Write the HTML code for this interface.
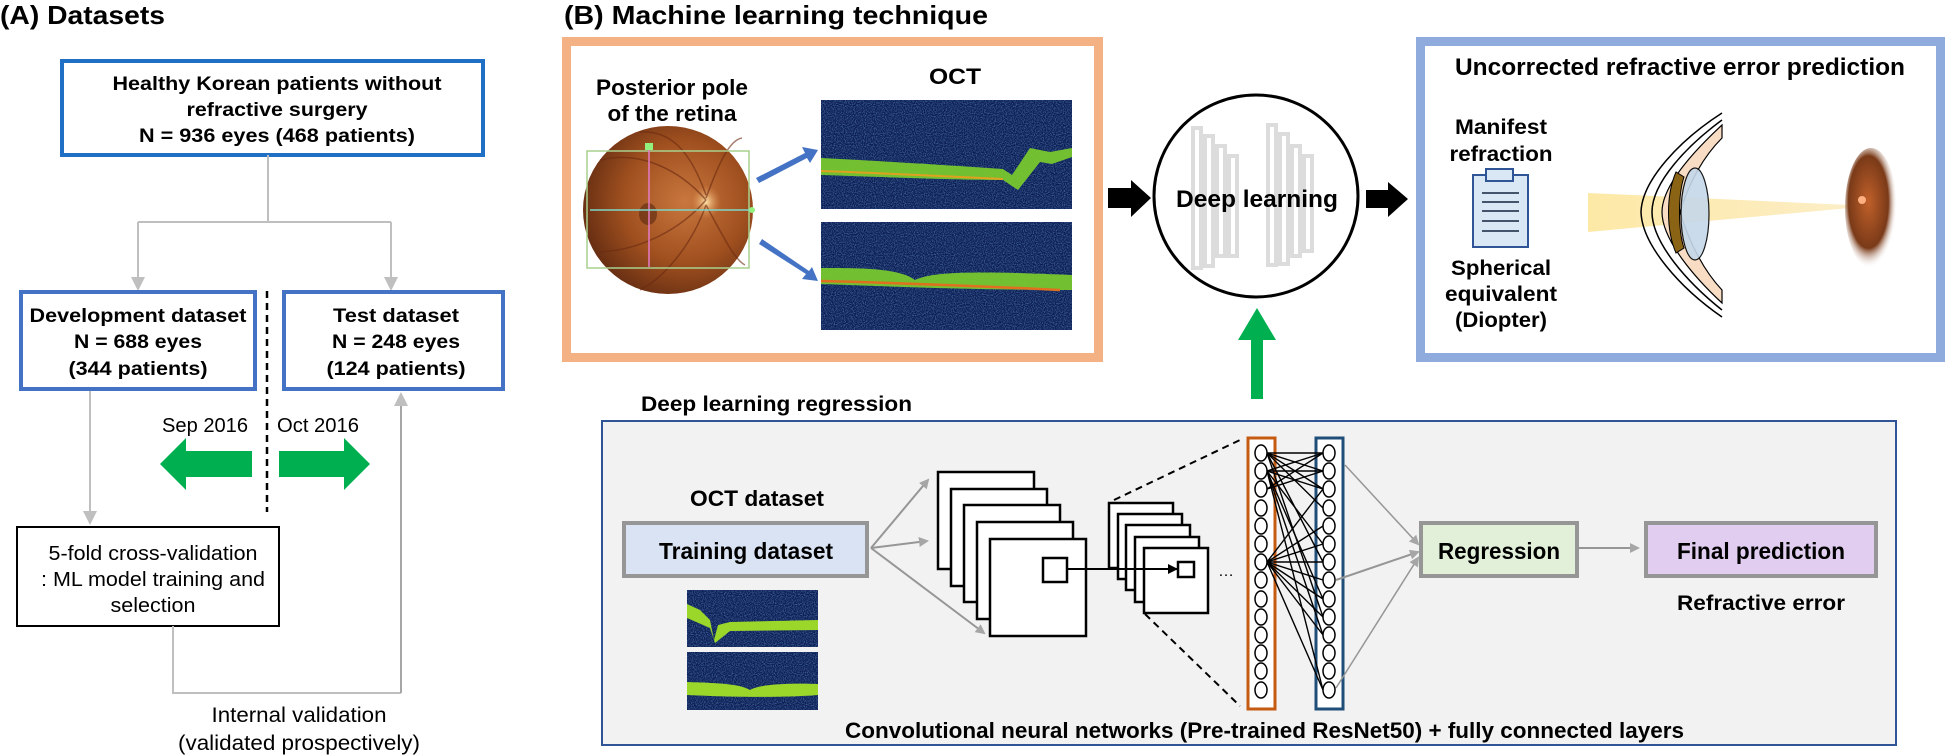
<!DOCTYPE html>
<html><head><meta charset="utf-8">
<style>
html,body{margin:0;padding:0;background:#fff;}
svg{display:block;}
.b{font-family:"Liberation Sans",sans-serif;font-weight:bold;fill:#000;}
.r{font-family:"Liberation Sans",sans-serif;fill:#000;}
.n{font-family:"Liberation Sans Narrow","Liberation Sans",sans-serif;font-weight:bold;fill:#000;}
</style></head>
<body>
<svg width="1946" height="755" viewBox="0 0 1946 755" xmlns="http://www.w3.org/2000/svg">
<defs>
<marker id="ga" markerWidth="10" markerHeight="10" refX="8" refY="5" orient="auto" markerUnits="userSpaceOnUse"><path d="M0,0 L10,5 L0,10 z" fill="#a6a6a6"/></marker>
<marker id="gl" markerWidth="14" markerHeight="14" refX="12" refY="7" orient="auto" markerUnits="userSpaceOnUse"><path d="M0,0 L14,7 L0,14 z" fill="#bfbfbf"/></marker>
<marker id="ka" markerWidth="10" markerHeight="10" refX="9" refY="5" orient="auto" markerUnits="userSpaceOnUse"><path d="M0,0 L10,5 L0,10 z" fill="#000"/></marker>
<radialGradient id="fund" cx="0.6" cy="0.45" r="0.6">
<stop offset="0" stop-color="#c9773e"/><stop offset="0.6" stop-color="#a0501f"/><stop offset="1" stop-color="#6a3013"/></radialGradient>
<radialGradient id="disc" cx="0.5" cy="0.5" r="0.5"><stop offset="0" stop-color="#ffe3a8"/><stop offset="1" stop-color="#d98a4a" stop-opacity="0"/></radialGradient>
<radialGradient id="ret" cx="0.45" cy="0.45" r="0.55"><stop offset="0" stop-color="#c0602a"/><stop offset="0.7" stop-color="#7a3a18"/><stop offset="1" stop-color="#fff" stop-opacity="0"/></radialGradient>
<linearGradient id="beam" x1="0" x2="1"><stop offset="0" stop-color="#fde9a6"/><stop offset="1" stop-color="#fbe3a0" stop-opacity="0.6"/></linearGradient>
<filter id="speck" x="0" y="0" width="100%" height="100%">
<feTurbulence type="fractalNoise" baseFrequency="0.9" numOctaves="1" seed="3" result="t"/>
<feColorMatrix in="t" type="matrix" values="0 0 0 0 0.15  0 0 0 0 0.35  0 0 0 0 0.6  0 0 0 1.4 -0.55"/>
</filter>
</defs>

<!-- ===== Panel A ===== -->
<text class="b" x="0" y="24" font-size="26" textLength="165" lengthAdjust="spacingAndGlyphs">(A) Datasets</text>
<rect x="62" y="61" width="421" height="94" fill="#fff" stroke="#1f6fc5" stroke-width="4"/>
<text class="b" x="277" y="90" font-size="19" text-anchor="middle" textLength="329" lengthAdjust="spacingAndGlyphs">Healthy Korean patients without</text>
<text class="b" x="277" y="116" font-size="19" text-anchor="middle" textLength="181" lengthAdjust="spacingAndGlyphs">refractive surgery</text>
<text class="b" x="277" y="142" font-size="19" text-anchor="middle" textLength="276" lengthAdjust="spacingAndGlyphs">N = 936 eyes (468 patients)</text>

<path d="M268,155 V222 M138,222 H391" stroke="#bfbfbf" stroke-width="2" fill="none"/>
<line x1="138" y1="222" x2="138" y2="289" stroke="#bfbfbf" stroke-width="2" marker-end="url(#gl)"/>
<line x1="391" y1="222" x2="391" y2="289" stroke="#bfbfbf" stroke-width="2" marker-end="url(#gl)"/>

<rect x="21" y="292" width="234" height="97" fill="#fff" stroke="#4472c4" stroke-width="4"/>
<text class="b" x="138" y="322" font-size="19" text-anchor="middle" textLength="217" lengthAdjust="spacingAndGlyphs">Development dataset</text>
<text class="b" x="138" y="348" font-size="19" text-anchor="middle" textLength="128" lengthAdjust="spacingAndGlyphs">N = 688 eyes</text>
<text class="b" x="138" y="375" font-size="19" text-anchor="middle" textLength="139" lengthAdjust="spacingAndGlyphs">(344 patients)</text>

<rect x="284" y="292" width="219" height="97" fill="#fff" stroke="#4472c4" stroke-width="4"/>
<text class="b" x="396" y="322" font-size="19" text-anchor="middle" textLength="126" lengthAdjust="spacingAndGlyphs">Test dataset</text>
<text class="b" x="396" y="348" font-size="19" text-anchor="middle" textLength="128" lengthAdjust="spacingAndGlyphs">N = 248 eyes</text>
<text class="b" x="396" y="375" font-size="19" text-anchor="middle" textLength="139" lengthAdjust="spacingAndGlyphs">(124 patients)</text>

<line x1="267" y1="291" x2="267" y2="512" stroke="#000" stroke-width="2.5" stroke-dasharray="7,5"/>
<text class="r" x="162" y="432" font-size="20" textLength="86" lengthAdjust="spacingAndGlyphs">Sep 2016</text>
<text class="r" x="277" y="432" font-size="20" textLength="82" lengthAdjust="spacingAndGlyphs">Oct 2016</text>
<path d="M160,464 L186,438 L186,451 L252,451 L252,477 L186,477 L186,490 z" fill="#00b050"/>
<path d="M370,464 L344,438 L344,451 L279,451 L279,477 L344,477 L344,490 z" fill="#00b050"/>

<line x1="90" y1="391" x2="90" y2="523" stroke="#bfbfbf" stroke-width="2" marker-end="url(#gl)"/>
<rect x="17" y="527" width="262" height="99" fill="#fff" stroke="#000" stroke-width="2"/>
<text class="r" x="153" y="560" font-size="20" text-anchor="middle" textLength="209" lengthAdjust="spacingAndGlyphs">5-fold cross-validation</text>
<text class="r" x="153" y="586" font-size="20" text-anchor="middle" textLength="224" lengthAdjust="spacingAndGlyphs">: ML model training and</text>
<text class="r" x="153" y="612" font-size="20" text-anchor="middle" textLength="85" lengthAdjust="spacingAndGlyphs">selection</text>
<path d="M173,626 V693 H401" stroke="#bfbfbf" stroke-width="2" fill="none"/>
<line x1="401" y1="693" x2="401" y2="394" stroke="#a6a6a6" stroke-width="2" marker-end="url(#gl)"/>
<text class="r" x="299" y="722" font-size="21" text-anchor="middle" textLength="175" lengthAdjust="spacingAndGlyphs">Internal validation</text>
<text class="r" x="299" y="750" font-size="21" text-anchor="middle" textLength="242" lengthAdjust="spacingAndGlyphs">(validated prospectively)</text>

<!-- ===== Panel B ===== -->
<text class="n" x="564" y="24" font-size="26" textLength="424" lengthAdjust="spacingAndGlyphs">(B) Machine learning technique</text>
<rect x="566.5" y="41.5" width="532" height="316" fill="#fff" stroke="#f4b183" stroke-width="9"/>
<text class="n" x="672" y="95" font-size="22" text-anchor="middle" textLength="152" lengthAdjust="spacingAndGlyphs">Posterior pole</text>
<text class="n" x="672" y="121" font-size="22" text-anchor="middle" textLength="129" lengthAdjust="spacingAndGlyphs">of the retina</text>
<text class="n" x="955" y="84" font-size="22" text-anchor="middle" textLength="52" lengthAdjust="spacingAndGlyphs">OCT</text>

<!-- fundus -->
<ellipse cx="668" cy="210" rx="85" ry="84" fill="url(#fund)"/>
<ellipse cx="706" cy="202" rx="15" ry="17" fill="url(#disc)"/>
<ellipse cx="648" cy="214" rx="9" ry="11" fill="#5a2810" opacity="0.6"/>
<path d="M706,200 C680,170 640,150 600,160 M706,200 C680,230 640,250 600,252 M706,195 C690,150 670,130 640,132 M706,205 C690,250 660,280 640,290 M706,198 C720,160 730,140 742,138 M706,205 C725,240 735,260 745,265" stroke="#6b2a10" stroke-width="1.5" fill="none" opacity="0.6"/>
<rect x="587" y="151" width="162" height="117" fill="none" stroke="#a9d18e" stroke-width="1.5"/>
<line x1="649" y1="145" x2="649" y2="267" stroke="#e47bc8" stroke-width="1.5"/>
<line x1="590" y1="210" x2="752" y2="210" stroke="#7fd6c8" stroke-width="1.5"/>
<rect x="645" y="143" width="8" height="7" fill="#92f07f"/>
<circle cx="752" cy="210" r="3" fill="#92f07f"/>

<!-- blue arrows -->
<path d="M756,178 L805,153 L802,147 L818,150 L810,163 L807,158 L759,183 z" fill="#4472c4"/>
<path d="M759,244 L806,274 L802,279 L818,281 L812,267 L809,271 L762,239 z" fill="#4472c4"/>

<!-- OCT images -->
<rect x="821" y="100" width="251" height="109" fill="#0b1d55"/>
<rect x="821" y="100" width="251" height="109" filter="url(#speck)"/>
<path d="M821,158 C880,161 960,166 1003,169 L1012,175 L1030,148 L1050,152 L1072,148 L1072,157 L1052,164 L1040,162 L1018,190 L1003,180 C960,180 880,177 821,175 z" fill="#7ccf2b" opacity="0.9"/>
<path d="M821,171 C880,173 960,177 1003,179" stroke="#e0a020" stroke-width="2" fill="none"/>
<rect x="821" y="222" width="251" height="108" fill="#0b1d55"/>
<rect x="821" y="222" width="251" height="108" filter="url(#speck)"/>
<path d="M821,268 C860,268 900,268 915,280 C930,273 960,270 1072,275 L1072,290 C980,290 900,287 821,284 z" fill="#7ccf2b" opacity="0.9"/>
<path d="M821,281 C900,283 980,286 1060,290" stroke="#e07020" stroke-width="2.5" fill="none"/>

<!-- black arrows -->
<path d="M1108,188 L1131,188 L1131,180 L1151,198 L1131,217 L1131,208 L1108,208 z" fill="#000"/>
<path d="M1366,190 L1388,190 L1388,182 L1408,199 L1388,217 L1388,208 L1366,208 z" fill="#000"/>

<!-- deep learning circle -->
<ellipse cx="1256" cy="196" rx="102" ry="101" fill="#fff" stroke="#000" stroke-width="3"/>
<g stroke="#dcdcdc" stroke-width="4" fill="none">
<path d="M1193,128 h8 v140 h-8 z M1205,136 h8 v130 h-8 z M1217,146 h8 v110 h-8 z M1229,156 h8 v100 h-8 z"/>
<path d="M1268,125 h8 v140 h-8 z M1280,134 h8 v130 h-8 z M1292,146 h8 v110 h-8 z M1304,156 h8 v95 h-8 z"/>
</g>
<text class="n" x="1257" y="207" font-size="24" text-anchor="middle" textLength="162" lengthAdjust="spacingAndGlyphs">Deep learning</text>

<!-- blue right box -->
<rect x="1420.5" y="41.5" width="520" height="316" fill="#fff" stroke="#8faadc" stroke-width="9"/>
<text class="n" x="1680" y="75" font-size="24" text-anchor="middle" textLength="450" lengthAdjust="spacingAndGlyphs">Uncorrected refractive error prediction</text>
<text class="n" x="1501" y="134" font-size="21" text-anchor="middle" textLength="92" lengthAdjust="spacingAndGlyphs">Manifest</text>
<text class="n" x="1501" y="161" font-size="21" text-anchor="middle" textLength="103" lengthAdjust="spacingAndGlyphs">refraction</text>
<rect x="1473" y="175" width="55" height="72" fill="#dae8f5" stroke="#2f5597" stroke-width="2"/>
<rect x="1486" y="169" width="27" height="12" fill="#dae8f5" stroke="#2f5597" stroke-width="2"/>
<g stroke="#44546a" stroke-width="2"><line x1="1482" y1="193" x2="1519" y2="193"/><line x1="1482" y1="202" x2="1519" y2="202"/><line x1="1482" y1="211" x2="1519" y2="211"/><line x1="1482" y1="221" x2="1519" y2="221"/><line x1="1482" y1="231" x2="1519" y2="231"/></g>
<text class="n" x="1501" y="275" font-size="21" text-anchor="middle" textLength="100" lengthAdjust="spacingAndGlyphs">Spherical</text>
<text class="n" x="1501" y="301" font-size="21" text-anchor="middle" textLength="112" lengthAdjust="spacingAndGlyphs">equivalent</text>
<text class="n" x="1501" y="327" font-size="21" text-anchor="middle" textLength="92" lengthAdjust="spacingAndGlyphs">(Diopter)</text>

<!-- beam and eye -->
<path d="M1588,193 L1850,205 L1850,208 L1588,232 z" fill="url(#beam)"/>
<path d="M1722,113 C1680,140 1642,180 1641,212 C1642,245 1680,288 1722,317" stroke="#000" stroke-width="1.5" fill="none"/>
<path d="M1722,120 C1688,145 1652,182 1652,212 C1652,243 1688,283 1722,310" stroke="#000" stroke-width="1.5" fill="none"/>
<path d="M1722,125 C1695,150 1662,185 1662,212 C1662,240 1695,278 1722,303 L1722,290 C1705,272 1690,245 1680,212 C1690,180 1705,155 1722,138 z" fill="#f8dcc4" stroke="#000" stroke-width="1.2"/>
<path d="M1676,172 C1666,195 1666,230 1676,253 L1684,248 C1678,230 1678,195 1684,177 z" fill="#8a6414" stroke="#000" stroke-width="1"/>
<ellipse cx="1695" cy="214" rx="14" ry="46" fill="#c5d8ea" stroke="#000" stroke-width="1.2" opacity="0.9"/>
<ellipse cx="1871" cy="208" rx="26" ry="60" fill="url(#ret)"/>
<circle cx="1862" cy="200" r="4" fill="#ffb080"/>

<!-- green up arrow -->
<path d="M1251,399 L1251,340 L1238,340 L1257,308 L1276,340 L1263,340 L1263,399 z" fill="#00b050"/>

<!-- bottom regression panel -->
<text class="n" x="641" y="411" font-size="21" textLength="271" lengthAdjust="spacingAndGlyphs">Deep learning regression</text>
<rect x="602" y="421" width="1294" height="324" fill="#f2f2f2" stroke="#2f5597" stroke-width="2"/>
<text class="n" x="757" y="506" font-size="22" text-anchor="middle" textLength="134" lengthAdjust="spacingAndGlyphs">OCT dataset</text>
<rect x="624" y="523" width="243" height="53" fill="#dae3f3" stroke="#969696" stroke-width="4"/>
<text class="n" x="746" y="559" font-size="23" text-anchor="middle" textLength="174" lengthAdjust="spacingAndGlyphs">Training dataset</text>

<rect x="687" y="590" width="131" height="57" fill="#0b1d55"/>
<rect x="687" y="590" width="131" height="57" filter="url(#speck)"/>
<path d="M687,604 L700,610 L710,620 L714,640 L718,625 L730,622 L818,620 L818,630 L730,631 L715,643 L710,628 L687,618 z" fill="#9bd62a"/>
<rect x="687" y="652" width="131" height="58" fill="#0b1d55"/>
<rect x="687" y="652" width="131" height="58" filter="url(#speck)"/>
<path d="M687,682 C720,683 740,684 750,690 C760,684 790,683 818,684 L818,695 C780,698 730,697 687,695 z" fill="#9bd62a"/>

<line x1="871" y1="548" x2="928" y2="480" stroke="#969696" stroke-width="2" marker-end="url(#ga)"/>
<line x1="871" y1="548" x2="927" y2="541" stroke="#969696" stroke-width="2" marker-end="url(#ga)"/>
<line x1="871" y1="548" x2="984" y2="633" stroke="#969696" stroke-width="2" marker-end="url(#ga)"/>

<g fill="#fff" stroke="#000" stroke-width="2.5">
<rect x="938" y="472" width="96" height="97"/>
<rect x="951" y="489" width="96" height="97"/>
<rect x="964" y="505" width="96" height="97"/>
<rect x="977" y="522" width="96" height="97"/>
<rect x="990" y="539" width="96" height="97"/>
<rect x="1043" y="558" width="24" height="24"/>
<rect x="1109" y="503" width="64" height="65"/>
<rect x="1118" y="514" width="64" height="65"/>
<rect x="1126" y="525" width="64" height="65"/>
<rect x="1135" y="537" width="64" height="65"/>
<rect x="1144" y="548" width="64" height="65"/>
<rect x="1178" y="562" width="16" height="15"/>
</g>
<line x1="1067" y1="569" x2="1177" y2="569" stroke="#000" stroke-width="2" marker-end="url(#ka)"/>
<text class="r" x="1226" y="576" font-size="16" text-anchor="middle">…</text>
<line x1="1114" y1="500" x2="1240" y2="440" stroke="#000" stroke-width="2" stroke-dasharray="7,5"/>
<line x1="1145" y1="614" x2="1240" y2="706" stroke="#000" stroke-width="2" stroke-dasharray="7,5"/>

<rect x="1248" y="438" width="27" height="271" fill="#fff" stroke="#c55a11" stroke-width="3"/>
<rect x="1316" y="438" width="27" height="271" fill="#fff" stroke="#1f4e79" stroke-width="3"/>

<g stroke="#000" stroke-width="1.4">
<line x1="1267" y1="453" x2="1323" y2="453"/><line x1="1267" y1="453" x2="1323" y2="471"/><line x1="1267" y1="453" x2="1323" y2="489"/><line x1="1267" y1="453" x2="1323" y2="508"/><line x1="1267" y1="453" x2="1323" y2="562"/><line x1="1267" y1="453" x2="1323" y2="617"/>
<line x1="1267" y1="471" x2="1323" y2="453"/><line x1="1267" y1="471" x2="1323" y2="471"/><line x1="1267" y1="471" x2="1323" y2="489"/><line x1="1267" y1="471" x2="1323" y2="544"/><line x1="1267" y1="471" x2="1323" y2="599"/><line x1="1267" y1="471" x2="1323" y2="635"/><line x1="1267" y1="471" x2="1323" y2="690"/>
<line x1="1267" y1="489" x2="1323" y2="453"/><line x1="1267" y1="489" x2="1323" y2="471"/>
<line x1="1267" y1="562" x2="1323" y2="489"/><line x1="1267" y1="562" x2="1323" y2="526"/><line x1="1267" y1="562" x2="1323" y2="544"/><line x1="1267" y1="562" x2="1323" y2="562"/><line x1="1267" y1="562" x2="1323" y2="580"/><line x1="1267" y1="562" x2="1323" y2="599"/><line x1="1267" y1="562" x2="1323" y2="617"/><line x1="1267" y1="562" x2="1323" y2="635"/><line x1="1267" y1="562" x2="1323" y2="690"/>
</g>
<g fill="#fff" stroke="#000" stroke-width="1.5">
<ellipse cx="1261" cy="453" rx="6" ry="8"/><ellipse cx="1261" cy="471" rx="6" ry="8"/><ellipse cx="1261" cy="489" rx="6" ry="8"/><ellipse cx="1261" cy="508" rx="6" ry="8"/><ellipse cx="1261" cy="526" rx="6" ry="8"/><ellipse cx="1261" cy="544" rx="6" ry="8"/><ellipse cx="1261" cy="562" rx="6" ry="8"/><ellipse cx="1261" cy="580" rx="6" ry="8"/><ellipse cx="1261" cy="599" rx="6" ry="8"/><ellipse cx="1261" cy="617" rx="6" ry="8"/><ellipse cx="1261" cy="635" rx="6" ry="8"/><ellipse cx="1261" cy="653" rx="6" ry="8"/><ellipse cx="1261" cy="671" rx="6" ry="8"/><ellipse cx="1261" cy="690" rx="6" ry="8"/>
<ellipse cx="1329" cy="453" rx="6" ry="8"/><ellipse cx="1329" cy="471" rx="6" ry="8"/><ellipse cx="1329" cy="489" rx="6" ry="8"/><ellipse cx="1329" cy="508" rx="6" ry="8"/><ellipse cx="1329" cy="526" rx="6" ry="8"/><ellipse cx="1329" cy="544" rx="6" ry="8"/><ellipse cx="1329" cy="562" rx="6" ry="8"/><ellipse cx="1329" cy="580" rx="6" ry="8"/><ellipse cx="1329" cy="599" rx="6" ry="8"/><ellipse cx="1329" cy="617" rx="6" ry="8"/><ellipse cx="1329" cy="635" rx="6" ry="8"/><ellipse cx="1329" cy="653" rx="6" ry="8"/><ellipse cx="1329" cy="671" rx="6" ry="8"/><ellipse cx="1329" cy="690" rx="6" ry="8"/>
</g>

<line x1="1345" y1="465" x2="1418" y2="544" stroke="#969696" stroke-width="1.5" marker-end="url(#ga)"/>
<line x1="1336" y1="580" x2="1418" y2="552" stroke="#969696" stroke-width="2" marker-end="url(#ga)"/>
<line x1="1336" y1="688" x2="1418" y2="558" stroke="#969696" stroke-width="1.5" marker-end="url(#ga)"/>

<rect x="1421" y="523" width="156" height="53" fill="#e2f0d9" stroke="#969696" stroke-width="4"/>
<text class="n" x="1499" y="559" font-size="23" text-anchor="middle" textLength="122" lengthAdjust="spacingAndGlyphs">Regression</text>
<line x1="1579" y1="548" x2="1638" y2="548" stroke="#969696" stroke-width="2" marker-end="url(#ga)"/>
<rect x="1646" y="523" width="230" height="53" fill="#e1cdf0" stroke="#969696" stroke-width="4"/>
<text class="n" x="1761" y="559" font-size="23" text-anchor="middle" textLength="168" lengthAdjust="spacingAndGlyphs">Final prediction</text>
<text class="n" x="1761" y="610" font-size="21" text-anchor="middle" textLength="168" lengthAdjust="spacingAndGlyphs">Refractive error</text>
<text class="n" x="845" y="738" font-size="22" textLength="839" lengthAdjust="spacingAndGlyphs">Convolutional neural networks (Pre-trained ResNet50) + fully connected layers</text>
</svg>
</body></html>
